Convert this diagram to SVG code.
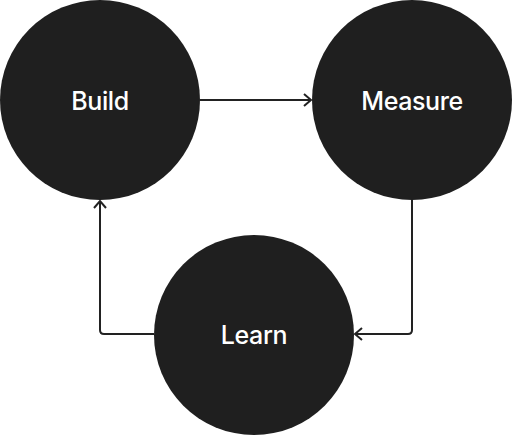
<svg xmlns="http://www.w3.org/2000/svg" width="512" height="435" viewBox="0 0 512 435">
<defs>
<style>
.n circle{fill:#1f1f1f}
.n text{fill:#fff;font-family:Inter,"Liberation Sans",sans-serif;font-size:25px;font-weight:500;letter-spacing:-0.4px;text-anchor:middle}
.c path{fill:none;stroke:#222;stroke-width:2}
</style>
<marker id="ah" markerWidth="14" markerHeight="14" refX="10" refY="7" orient="auto" markerUnits="userSpaceOnUse">
<path d="M3,1 L10,7 L3,13" fill="none" stroke="#222" stroke-width="2"/>
</marker>
</defs>
<rect width="512" height="435" fill="#fff"/>
<g class="c">
<path d="M200,100 H311" marker-end="url(#ah)"/>
<path d="M412,200 V330 Q412,334 408,334 H355" marker-end="url(#ah)"/>
<path d="M154,334 H104 Q100,334 100,330 V201" marker-end="url(#ah)"/>
</g>
<g id="build" class="n"><circle cx="100" cy="100" r="100"/><text x="100" y="109.5">Build</text></g>
<g id="measure" class="n"><circle cx="412" cy="100" r="100"/><text x="412" y="109.5">Measure</text></g>
<g id="learn" class="n"><circle cx="254" cy="335" r="100"/><text x="254" y="343.5">Learn</text></g>
</svg>
